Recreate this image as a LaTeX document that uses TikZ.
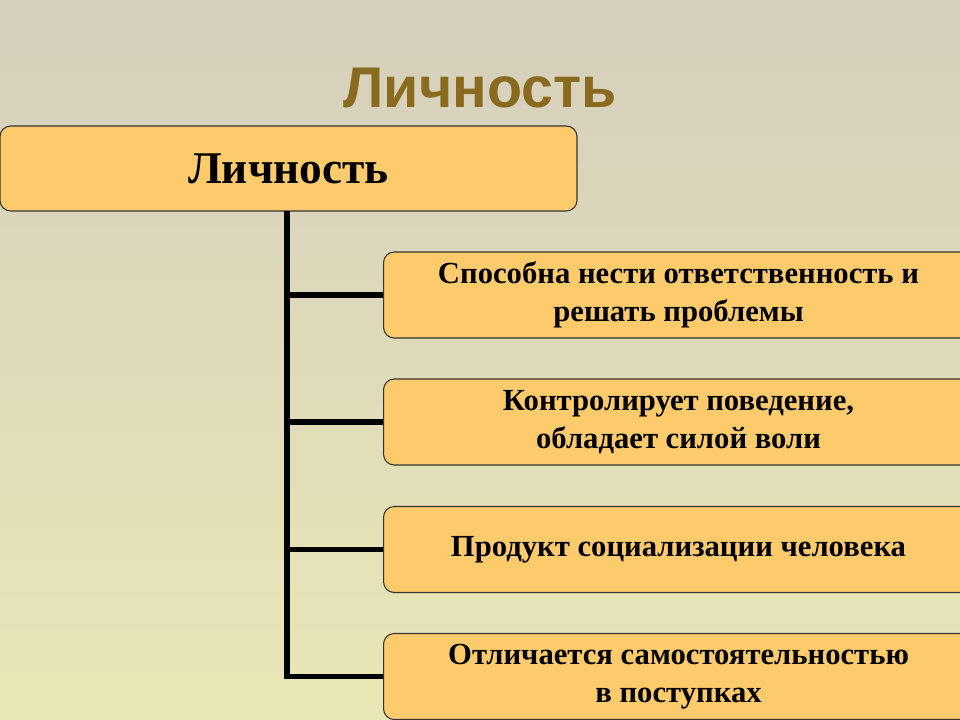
\documentclass[tikz,border=0pt]{standalone}
\usepackage{fontspec}
\setmainfont{Liberation Serif}
\newfontfamily\titlefont{Liberation Sans}
\definecolor{bgtop}{HTML}{D5CFBD}
\definecolor{bgbot}{HTML}{E9E7B5}
\definecolor{boxfill}{HTML}{FDCB6B}
\definecolor{titlec}{HTML}{8A6A1E}
\begin{document}
\begin{tikzpicture}[x=0.75pt,y=-0.75pt,
  box/.style={draw=black!80,line width=0.8pt,fill=boxfill,rounded corners=8pt,align=center,font=\bfseries\fontsize{23}{28.5}\selectfont},
  conn/.style={line width=3.8pt,black}]
\useasboundingbox (0,0) rectangle (960,720);
\shade[top color=bgtop,bottom color=bgbot] (0,0) rectangle (960,720);
\node[font=\titlefont\bfseries\fontsize{43}{48}\selectfont,text=titlec] (title) at (480,88) {Личность};
\node[box,minimum width=577*0.75pt,minimum height=85*0.75pt,font=\bfseries\fontsize{34}{38}\selectfont] (top) at (288.5,168.5) {Личность};
\node[box,minimum width=590*0.75pt,minimum height=86*0.75pt,anchor=west] (b1) at (383,295) {Способна нести ответственность и\\решать проблемы};
\node[box,minimum width=590*0.75pt,minimum height=86*0.75pt,anchor=west] (b2) at (383,422) {Контролирует поведение,\\обладает силой воли};
\node[box,minimum width=590*0.75pt,minimum height=86*0.75pt,anchor=west] (b3) at (383,549.5) {Продукт социализации человека};
\node[box,minimum width=590*0.75pt,minimum height=86*0.75pt,anchor=west] (b4) at (383,676.5) {Отличается самостоятельностью\\в поступках};
\coordinate (v) at (287,211);
\draw[conn] (v) -- (v |- b4.west) -- (b4.west);
\draw[conn] (v |- b1.west) -- (b1.west);
\draw[conn] (v |- b2.west) -- (b2.west);
\draw[conn] (v |- b3.west) -- (b3.west);
\end{tikzpicture}
\end{document}
